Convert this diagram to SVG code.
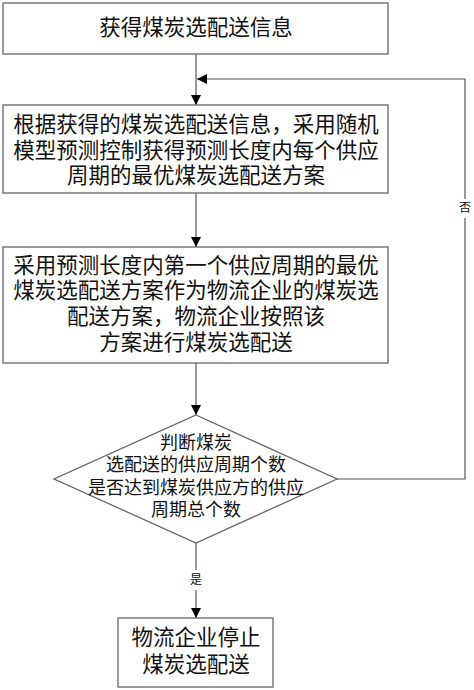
<svg xmlns="http://www.w3.org/2000/svg" width="474" height="690" viewBox="0 0 474 690">
<defs>
<marker id="ah" viewBox="0 0 10 10" refX="10" refY="5" markerWidth="10" markerHeight="10" markerUnits="userSpaceOnUse" orient="auto">
<path d="M0,0 L10,5 L0,10 Z" fill="#000"/>
</marker>
</defs>
<style>
.box{fill:#fff;stroke:#666;stroke-width:1.3}
.t{font-family:"Liberation Serif","Noto Sans CJK SC",serif;font-size:21.5px;fill:#111;text-anchor:middle;dominant-baseline:central}
.td{font-size:18px}
.lbl{font-family:"Liberation Serif","Noto Sans CJK SC",serif;font-size:12px;fill:#111;text-anchor:middle;dominant-baseline:central}
.c{fill:none;stroke:#555;stroke-width:1.2}
</style>
<rect width="474" height="690" fill="#fff"/>
<g id="connectors">
<line class="c" x1="196" y1="54" x2="196" y2="105" marker-end="url(#ah)"/>
<line class="c" x1="196" y1="193" x2="196" y2="247" marker-end="url(#ah)"/>
<line class="c" x1="196" y1="363" x2="196" y2="415" marker-end="url(#ah)"/>
<line class="c" x1="196" y1="543" x2="196" y2="570"/>
<line class="c" x1="196" y1="590" x2="196" y2="618" marker-end="url(#ah)"/>
<polyline class="c" points="337,479 465,479 465,218"/>
<polyline class="c" points="465,199 465,79 197,79" marker-end="url(#ah)"/>
<text class="lbl" x="465" y="208">否</text>
<text class="lbl" x="196" y="580">是</text>
</g>
<g id="n1">
<rect class="box" x="3" y="3" width="385" height="51"/>
<text class="t" x="196" y="28">获得煤炭选配送信息</text>
</g>
<g id="n2">
<rect class="box" x="3" y="105" width="385" height="88"/>
<text class="t" x="196" y="125">根据获得的煤炭选配送信息，采用随机</text>
<text class="t" x="196" y="150.5">模型预测控制获得预测长度内每个供应</text>
<text class="t" x="196" y="176">周期的最优煤炭选配送方案</text>
</g>
<g id="n3">
<rect class="box" x="3" y="247" width="385" height="116"/>
<text class="t" x="196" y="266">采用预测长度内第一个供应周期的最优</text>
<text class="t" x="196" y="291">煤炭选配送方案作为物流企业的煤炭选</text>
<text class="t" x="196" y="317">配送方案，物流企业按照该</text>
<text class="t" x="196" y="343">方案进行煤炭选配送</text>
</g>
<g id="n4">
<polygon class="box" points="196,415 337,479 196,543 54,479"/>
<text class="t td" x="196" y="443">判断煤炭</text>
<text class="t td" x="196" y="465">选配送的供应周期个数</text>
<text class="t td" x="196" y="488">是否达到煤炭供应方的供应</text>
<text class="t td" x="196" y="510">周期总个数</text>
</g>
<g id="n5">
<rect class="box" x="118" y="618" width="155" height="69"/>
<text class="t" x="196" y="638">物流企业停止</text>
<text class="t" x="196" y="665">煤炭选配送</text>
</g>
</svg>
